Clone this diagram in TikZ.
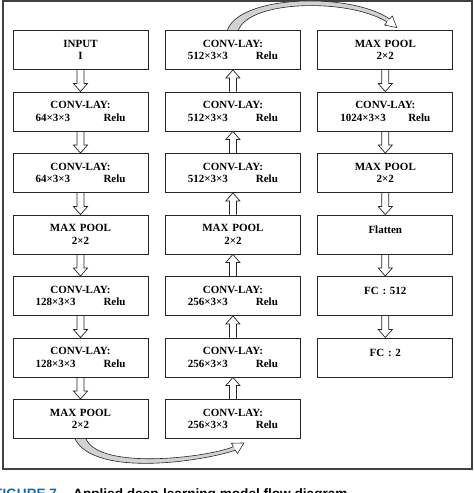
\documentclass[tikz,border=0pt]{standalone}
\usepackage{fontspec}
\setmainfont{Liberation Serif}
\newfontfamily\capfont{Liberation Sans}
\usetikzlibrary{positioning, calc}
\definecolor{figblue}{RGB}{0,112,184}

\begin{document}
\begin{tikzpicture}[
    x=1pt, y=-1pt,
    node distance=21.6pt and 16.5pt,
    convbox/.style={
      draw=black!85, line width=0.9pt, align=center, inner sep=0pt,
      minimum width=135pt, minimum height=39pt, text width=90pt,
      font=\fontsize{11}{12.5}\selectfont\bfseries
    },
    oneline/.style={
      text depth=10pt
    },
    hollow/.style={
      draw=black!85, line width=0.7pt,
      to path={
        let \p1=(\tikztostart), \p2=(\tikztotarget), \n1={ifthenelse(\y2>\y1,1,-1)} in
        (\x1-3.5pt,\y1) -- (\x1-3.5pt,\y2-\n1*8pt) -- (\x1-7pt,\y2-\n1*8pt) -- (\x1,\y2)
        -- (\x1+7pt,\y2-\n1*8pt) -- (\x1+3.5pt,\y2-\n1*8pt) -- (\x1+3.5pt,\y1)
      }
    },
    swoosh/.style={
      draw=black!85, line width=0.6pt, line join=round
    },
    caption/.style={
      inner sep=0pt, font=\capfont\fontsize{13.6}{16}\bfseries\selectfont
    },
  ]
    \useasboundingbox (0,0) rectangle (474,493);
    \clip (0,0) rectangle (474,493);

    % frame
    \draw [black!75, line width=1.3pt] (3,1) rectangle (472,469);

    % first column
    \node [convbox] (input) at (80.5,50) {INPUT\\I};
    \node [convbox, below=of input] (conv1) {CONV-LAY:\\64×3×3\hfill Relu};
    \node [convbox, below=of conv1] (conv2) {CONV-LAY:\\64×3×3\hfill Relu};
    \node [convbox, below=of conv2] (pool1) {MAX POOL\\2×2};
    \node [convbox, below=of pool1] (conv3) {CONV-LAY:\\128×3×3\hfill Relu};
    \node [convbox, below=of conv3] (conv4) {CONV-LAY:\\128×3×3\hfill Relu};
    \node [convbox, below=of conv4] (pool2) {MAX POOL\\2×2};

    % second column (upwards)
    \node [convbox, right=of pool2] (conv5) {CONV-LAY:\\256×3×3\hfill Relu};
    \node [convbox, above=of conv5] (conv6) {CONV-LAY:\\256×3×3\hfill Relu};
    \node [convbox, above=of conv6] (conv7) {CONV-LAY:\\256×3×3\hfill Relu};
    \node [convbox, above=of conv7] (pool3) {MAX POOL\\2×2};
    \node [convbox, above=of pool3] (conv8) {CONV-LAY:\\512×3×3\hfill Relu};
    \node [convbox, above=of conv8] (conv9) {CONV-LAY:\\512×3×3\hfill Relu};
    \node [convbox, above=of conv9] (conv10) {CONV-LAY:\\512×3×3\hfill Relu};

    % third column
    \node [convbox, right=of conv10] (pool4) {MAX POOL\\2×2};
    \node [convbox, below=of pool4] (conv11) {CONV-LAY:\\1024×3×3\hfill Relu};
    \node [convbox, below=of conv11] (pool5) {MAX POOL\\2×2};
    \node [convbox, oneline, below=of pool5] (flatten) {Flatten};
    \node [convbox, oneline, below=of flatten] (fc1) {FC : 512};
    \node [convbox, oneline, below=of fc1] (fc2) {FC : 2};

    % block arrows
    \draw [hollow] (input.south) to (conv1.north);
    \draw [hollow] (conv1.south) to (conv2.north);
    \draw [hollow] (conv2.south) to (pool1.north);
    \draw [hollow] (pool1.south) to (conv3.north);
    \draw [hollow] (conv3.south) to (conv4.north);
    \draw [hollow] (conv4.south) to (pool2.north);
    \draw [hollow] (conv5.north) to (conv6.south);
    \draw [hollow] (conv6.north) to (conv7.south);
    \draw [hollow] (conv7.north) to (pool3.south);
    \draw [hollow] (pool3.north) to (conv8.south);
    \draw [hollow] (conv8.north) to (conv9.south);
    \draw [hollow] (conv9.north) to (conv10.south);
    \draw [hollow] (pool4.south) to (conv11.north);
    \draw [hollow] (conv11.south) to (pool5.north);
    \draw [hollow] (pool5.south) to (flatten.north);
    \draw [hollow] (flatten.south) to (fc1.north);
    \draw [hollow] (fc1.south) to (fc2.north);

    % curved arrow at the bottom
    \coordinate (lowtip) at ($(conv5.south)+(11,4)$);
    \fill [gray!35] ($(pool2.south)+(-5.5,0)$) .. controls (95,478) and (204.5,461) .. ($(lowtip)+(-8.5,7.2)$)
      -- ($(lowtip)+(-10.5,3.8)$) .. controls (205,458) and (100,470) .. ($(pool2.south)+(5.5,0)$) -- cycle;
    \draw [swoosh] ($(pool2.south)+(-5.5,0)$) .. controls (95,478) and (204.5,461) .. ($(lowtip)+(-8.5,7.2)$)
      -- ($(lowtip)+(-6.5,10.7)$) -- (lowtip) -- ($(lowtip)+(-12.5,0.3)$)
      -- ($(lowtip)+(-10.5,3.8)$) .. controls (205,458) and (100,470) .. ($(pool2.south)+(5.5,0)$);

    % curved arrow at the top
    \coordinate (hightip) at ($(pool4.north)+(11.5,-2.5)$);
    \fill [gray!35] ($(conv10.north)+(-5.5,0)$) .. controls (240,-5) and (350,-8) .. ($(hightip)+(-7.1,-8.6)$)
      -- ($(hightip)+(-9.7,-5.6)$) .. controls (348,-2) and (250,0) .. ($(conv10.north)+(5.5,0)$) -- cycle;
    \draw [swoosh] ($(conv10.north)+(-5.5,0)$) .. controls (240,-5) and (350,-8) .. ($(hightip)+(-7.1,-8.6)$)
      -- ($(hightip)+(-4.5,-11.7)$) -- (hightip) -- ($(hightip)+(-12.3,-2.5)$)
      -- ($(hightip)+(-9.7,-5.6)$) .. controls (348,-2) and (250,0) .. ($(conv10.north)+(5.5,0)$);

    % caption (cut off at the lower edge, as in the source figure)
    \node [caption, text=figblue, anchor=base east] (fignum) at (61,498) {FIGURE 7.};
    \node [caption, anchor=base west] (figtitle) at (73,498) {Applied deep-learning model flow diagram};
\end{tikzpicture}
\end{document}
